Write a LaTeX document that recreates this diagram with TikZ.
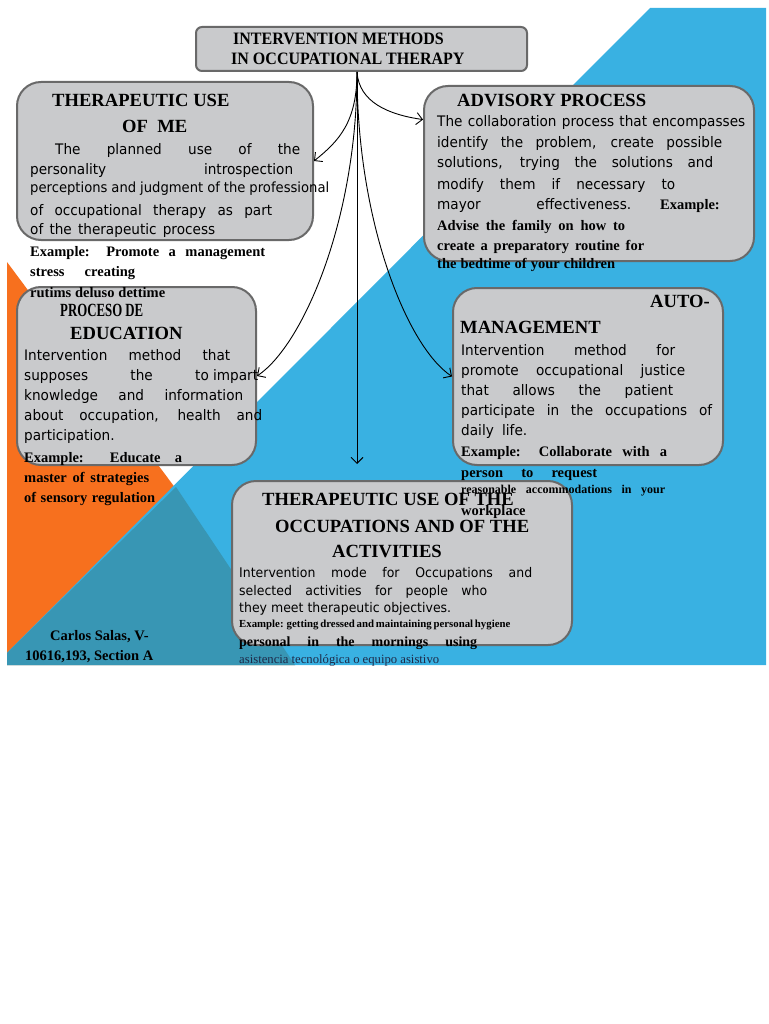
\documentclass[tikz,border=0pt]{standalone}
\usepackage{graphicx}
\usepackage{fontspec}
\setmainfont{Liberation Serif}
\newfontfamily\bodyfont[FakeStretch=0.94]{DejaVu Sans}
\newfontfamily\titlefont[FakeStretch=0.92]{Liberation Serif}
\usetikzlibrary{arrows.meta}

\definecolor{slideblue}{RGB}{57,177,226}
\definecolor{slideteal}{RGB}{56,150,180}
\definecolor{slideorange}{RGB}{247,112,30}
\definecolor{boxgray}{RGB}{201,202,204}
\definecolor{boxline}{RGB}{105,105,105}
\definecolor{navytext}{RGB}{30,42,72}

% one justified line of a given width
\newcommand\jline[2]{\makebox[#1pt][s]{#2}}

\tikzset{
  box/.style={draw=boxline, fill=boxgray, line width=2pt, rounded corners=24pt, inner sep=0pt},
  txt/.style={anchor=base west, inner sep=0pt},
  body/.style={txt, font=\bodyfont\fontsize{14.5}{17}\selectfont},
  head/.style={txt, font=\bfseries\fontsize{18.6}{21}\selectfont},
  ex/.style={txt, font=\bfseries\fontsize{14.5}{17}\selectfont},
  conn/.style={-{Straight Barb[length=6pt,width=12pt]}, line width=0.9pt},
}

\begin{document}
\begin{tikzpicture}[x=1pt,y=-1pt]
\useasboundingbox (0,0) rectangle (768,1024);
\fill[white] (0,0) rectangle (768,1024);

% background of the slide
\fill[slideorange] (7,262) -- (176,489) -- (295,665) -- (7,665) -- cycle;
\fill[slideblue] (650,8) -- (766,8) -- (766,665) -- (7,665) -- (7,653) -- cycle;
\fill[slideteal] (176,487) -- (295,665) -- (7,665) -- (7,653) -- cycle;

% boxes
\node[box, rounded corners=6pt, minimum width=331pt, minimum height=44pt] (title) at (361.5,49) {};
\node[box, minimum width=296pt, minimum height=158pt] (me) at (165,161) {};
\node[box, minimum width=330pt, minimum height=175pt] (adv) at (589,173.5) {};
\node[box, minimum width=239pt, minimum height=178pt] (edu) at (136.5,376) {};
\node[box, minimum width=270pt, minimum height=177pt] (auto) at (588,376.5) {};
\node[box, minimum width=340pt, minimum height=164pt] (occ) at (402,563) {};

% connectors
\coordinate (hub) at (357,72);
\draw[conn] (hub) .. controls +(0,50) and +(25,-20) .. (me.east);
\draw[conn] (hub) .. controls +(2,30) and +(-35,-5) .. (adv.162.7);
\draw[conn] (hub) .. controls +(0,150) and +(45,-30) .. (edu.east);
\draw[conn] (hub) .. controls +(0,150) and +(-45,-30) .. (auto.west);
\draw[conn, shorten >=16pt] (hub) -- (hub |- occ.north);

% title
\node[txt, font=\titlefont\bfseries\fontsize{17.4}{20}\selectfont] (titleA) at (233,45) {INTERVENTION METHODS};
\node[txt, font=\titlefont\bfseries\fontsize{17.4}{20}\selectfont] (titleB) at (231,65) {IN OCCUPATIONAL THERAPY};

% therapeutic use of me
\node[head] (meHeadA) at (52,107) {THERAPEUTIC USE};
\node[head] (meHeadB) at (122,133) {OF\ \ ME};
\foreach \x/\y/\w/\t [count=\i] in {
  55/155/245/{The planned use of the},
  30/175/263/{personality introspection},
  30/193/299/{\fontsize{14}{17}\selectfont perceptions and judgment of the professional},
  30/215/242/{of occupational therapy as part},
  30/235/185/{of the therapeutic process}}
  \node[body] (meL\i) at (\x,\y) {\jline{\w}{\t}};
\foreach \y/\w/\t [count=\i] in {
  256/235/{Example: Promote a management},
  276/105/{stress creating},
  297/135/{rutims deluso dettime}}
  \node[ex] (meEx\i) at (30,\y) {\jline{\w}{\t}};

% advisory process
\node[head] (advHead) at (457,107) {ADVISORY PROCESS};
\foreach \y/\w/\t [count=\i] in {
  127/308/{The collaboration process that encompasses},
  148/285/{identify the problem, create possible},
  168/276/{solutions, trying the solutions and},
  190/238/{modify them if necessary to},
  210/194/{mayor effectiveness.}}
  \node[body] (advL\i) at (437,\y) {\jline{\w}{\t}};
\node[ex] (advEx0) at (660,210) {Example:};
\foreach \y/\w/\t [count=\i] in {
  230/188/{Advise the family on how to},
  250/207/{create a preparatory routine for},
  268/178/{the bedtime of your children}}
  \node[ex] (advEx\i) at (437,\y) {\jline{\w}{\t}};

% education
\node[head] (eduHeadA) at (60,316) {\scalebox{0.69}[1]{PROCESO DE}};
\node[head] (eduHeadB) at (70,339) {EDUCATION};
\foreach \y/\w/\t [count=\i] in {
  360/206/{Intervention method that},
  380/234/{supposes\hfill the\hfill to impart},
  400/219/{knowledge and information},
  420/238/{about occupation, health and},
  440/97/{participation.}}
  \node[body] (eduL\i) at (24,\y) {\jline{\w}{\t}};
\foreach \y/\w/\t [count=\i] in {
  462/158/{Example: Educate a},
  482/125/{master of strategies},
  502/131/{of sensory regulation}}
  \node[ex] (eduEx\i) at (24,\y) {\jline{\w}{\t}};

% auto-management
\node[head] (autoHeadA) at (650,307) {AUTO-};
\node[head] (autoHeadB) at (460,333) {MANAGEMENT};
\foreach \y/\w/\t [count=\i] in {
  355/214/{Intervention method for},
  375/224/{promote occupational justice},
  395/212/{that allows the patient},
  415/251/{participate in the occupations of},
  435/66/{daily life.}}
  \node[body] (autoL\i) at (461,\y) {\jline{\w}{\t}};
\foreach \y/\w/\t [count=\i] in {
  456/206/{Example: Collaborate with a},
  477/136/{person to request},
  493/204/{\fontsize{12}{14}\selectfont reasonable accommodations in your},
  515/64/{workplace}}
  \node[ex] (autoEx\i) at (461,\y) {\jline{\w}{\t}};

% occupations and activities
\node[head] (occHeadA) at (262,505) {THERAPEUTIC USE OF THE};
\node[head] (occHeadB) at (275,532) {OCCUPATIONS AND OF THE};
\node[head] (occHeadC) at (332,557) {ACTIVITIES};
\foreach \y/\w/\t [count=\i] in {
  577/293/{Intervention mode for Occupations and},
  595/248/{selected activities for people who},
  612/212/{they meet therapeutic objectives.}}
  \node[body, font=\bodyfont\fontsize{13.3}{16}\selectfont] (occL\i) at (239,\y) {\jline{\w}{\t}};
\node[ex, font=\bfseries\fontsize{10.8}{13}\selectfont] (occEx1) at (239,627) {\jline{269}{Example: getting dressed and maintaining personal hygiene}};
\node[ex, font=\bfseries\fontsize{14}{16}\selectfont] (occEx2) at (239,646) {\jline{238}{personal in the mornings using}};
\node[txt, font=\fontsize{12.7}{15}\selectfont, text=navytext] (occEx3) at (239,663) {\jline{200}{asistencia tecnológica o equipo asistivo}};

% author
\node[ex] (signA) at (50,640) {Carlos Salas, V-};
\node[ex] (signB) at (25,660) {10616,193, Section A};
\end{tikzpicture}
\end{document}
